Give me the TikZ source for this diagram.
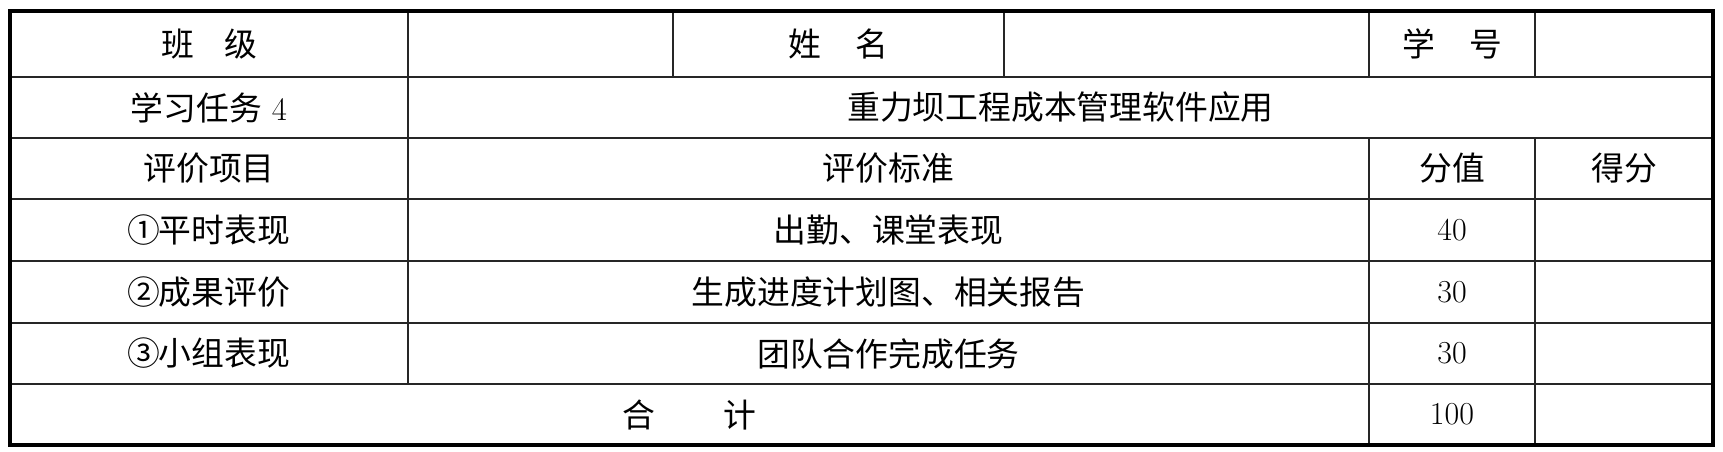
\documentclass[tikz,border=0pt]{standalone}
\usepackage{fontspec}
\newfontfamily\cjk{Noto Sans CJK SC}
\begin{document}
\begin{tikzpicture}[x=0.5pt,y=-0.5pt,
  inner/.style={line width=0.8pt,black!85},
  outer/.style={line width=1.6pt,black},
  txt/.style={inner sep=0pt,anchor=center,font=\fontsize{16.4pt}{18pt}\selectfont\cjk},
  num/.style={inner sep=0pt,anchor=center,font=\fontsize{16pt}{18pt}\selectfont}]
\useasboundingbox (0,0) rectangle (1723,451);
\fill[white] (0,0) rectangle (1723,451);
% horizontal inner lines
\draw[inner] (10,77) -- (1713,77);
\draw[inner] (10,138) -- (1713,138);
\draw[inner] (10,199) -- (1713,199);
\draw[inner] (10,261) -- (1713,261);
\draw[inner] (10,323) -- (1713,323);
\draw[inner] (10,384) -- (1713,384);
% vertical inner lines
\draw[inner] (408,11) -- (408,384);
\draw[inner] (673,11) -- (673,77);
\draw[inner] (1004,11) -- (1004,77);
\draw[inner] (1369,11) -- (1369,77);
\draw[inner] (1369,138) -- (1369,445);
\draw[inner] (1535,11) -- (1535,77);
\draw[inner] (1535,138) -- (1535,445);
% outer border
\draw[outer] (10,11) rectangle (1713,445);
% texts
\node[txt] (banji) at (209,44) {班\hspace{0.92em}级};
\node[txt] (xingming) at (838.5,44) {姓\hspace{1.04em}名};
\node[txt] (xuehao) at (1452,44) {学\hspace{1.04em}号};
\node[txt] (renwu) at (209,107.5) {学习任务\hspace{0.3em}{\fontspec{Latin Modern Roman}4}};
\node[txt] (title) at (1060.5,107.5) {重力坝工程成本管理软件应用};
\node[txt] (xiangmu) at (209,168.5) {评价项目};
\node[txt] (biaozhun) at (888.5,168.5) {评价标准};
\node[txt] (fenzhi) at (1452,168.5) {分值};
\node[txt] (defen) at (1624,168.5) {得分};
\node[txt] (i1) at (209,230) {①\hspace{-0.05em}平时表现};
\node[txt] (c1) at (888.5,230) {出勤、课堂表现};
\node[num] (s1) at (1452,230) {40};
\node[txt] (i2) at (209,292) {②\hspace{-0.05em}成果评价};
\node[txt] (c2) at (888.5,292) {生成进度计划图、相关报告};
\node[num] (s2) at (1452,292) {30};
\node[txt] (i3) at (209,353.5) {③\hspace{-0.05em}小组表现};
\node[txt] (c3) at (888.5,353.5) {团队合作完成任务};
\node[num] (s3) at (1452,353.5) {30};
\node[txt] (heji) at (689.5,414.5) {合\hspace{2.1em}计};
\node[num] (total) at (1452,414.5) {100};
\end{tikzpicture}
\end{document}
